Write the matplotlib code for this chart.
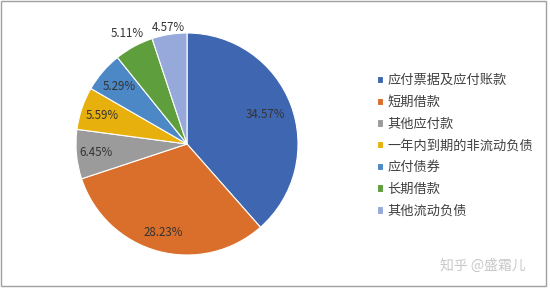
import matplotlib
matplotlib.use('Agg')
import matplotlib.pyplot as plt
from matplotlib.patches import Rectangle
import numpy as np

plt.rcParams['font.family'] = ['Noto Sans CJK SC', 'DejaVu Sans']

# 负债构成
names = ['应付票据及应付账款', '短期借款', '其他应付款', '一年内到期的非流动负债',
         '应付债券', '长期借款', '其他流动负债']
values = [34.57, 28.23, 6.45, 5.59, 5.29, 5.11, 4.57]

colors = ['#3F67B1', '#DA6F2B', '#9B9B9B', '#E8B00C', '#4D88C6', '#5E9E3C', '#97A8DA']
label_r = [0.76, 0.83, 0.82, 0.81, 0.80, 1.13, 1.06]

fig = plt.figure(figsize=(5.5, 2.89), dpi=100)
ax = fig.add_axes([76/550, 34/289, 222/550, 222/289])
wedges, _ = ax.pie(values, colors=colors, startangle=90, counterclock=False,
                   wedgeprops=dict(edgecolor='white', linewidth=0.8))
ax.set_xlim(-1, 1)
ax.set_ylim(-1, 1)
ax.set_aspect('equal')

# 数据标签
for w, v, r in zip(wedges, values, label_r):
    ang = np.deg2rad((w.theta1 + w.theta2) / 2)
    ax.text(r * np.cos(ang), r * np.sin(ang), '%.2f%%' % v,
            ha='center', va='center', fontsize=8.3, color='#333333')

leg = fig.legend(wedges, names, loc='upper left', bbox_to_anchor=(0.685, 0.743),
                 frameon=False, fontsize=9.5, handlelength=0.5, handleheight=0.5,
                 handletextpad=0.3, labelspacing=0.66, borderpad=0, borderaxespad=0)
for t in leg.get_texts():
    t.set_color('#404040')

fig.text(0.877, 0.08, '知乎 @盛霜儿', fontsize=10, color='#c8c8c8', ha='center', va='center')

# 外框
fig.patches.append(Rectangle((1/550, 3/289), 545/550, 285/289, transform=fig.transFigure,
                             fill=False, edgecolor='#a0a0a0', linewidth=1))

fig.savefig('out.png', dpi=100)
